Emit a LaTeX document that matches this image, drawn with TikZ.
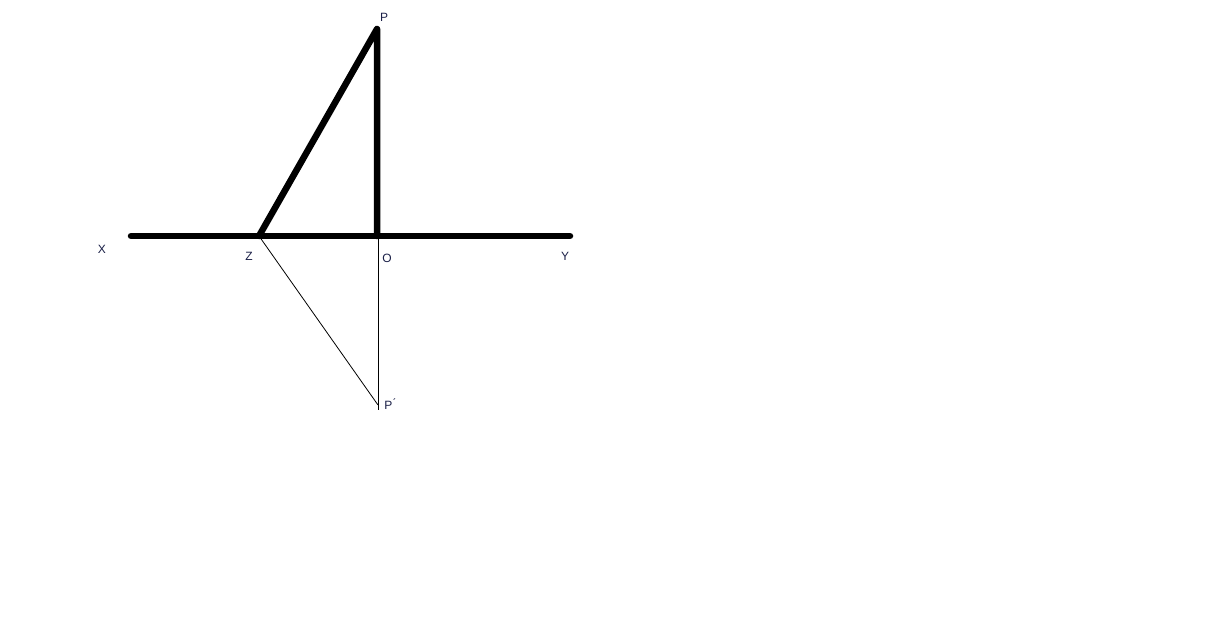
\documentclass[tikz,border=0pt]{standalone}
\usepackage{fontspec}
\setmainfont{Liberation Sans}
\usetikzlibrary{positioning,calc}
\definecolor{labelcolor}{RGB}{25,30,70}

\begin{document}
\begin{tikzpicture}[x=1pt,y=-1pt,
    thickline/.style={line width=6.5pt,line cap=round,line join=round},
    thinline/.style={line width=0.8pt},
    lbl/.style={font=\fontsize{12}{13}\selectfont,text=labelcolor,inner sep=0pt}]
    \useasboundingbox (0,0) rectangle (1210,630);
    % Points
    \coordinate (Xend) at (131,236);
    \coordinate (Yend) at (570,236);
    \coordinate (Z) at (259,236);
    \coordinate (O) at (378,236);
    \coordinate (P) at (377,29);
    \coordinate (Pp) at (378,410);
    % Ground line and triangle
    \draw[thickline] (Xend) -- (Yend);
    \draw[thickline] (Z) -- (P) -- (377,236);
    % Projection
    \draw[thinline] (O) -- (Pp);
    \draw[thinline] (Z) -- ($(Pp)+(0,-5)$);
    % Labels
    \node[lbl] (labP) at (384,17) {P};
    \node[lbl] (labX) at (102,249) {X};
    \node[lbl] (labZ) at (249,256) {Z};
    \node[lbl] (labO) at (387,258) {O};
    \node[lbl] (labY) at (565,256) {Y};
    \node[lbl] (labPp) at (390,404) {P\'{}};
\end{tikzpicture}
\end{document}
